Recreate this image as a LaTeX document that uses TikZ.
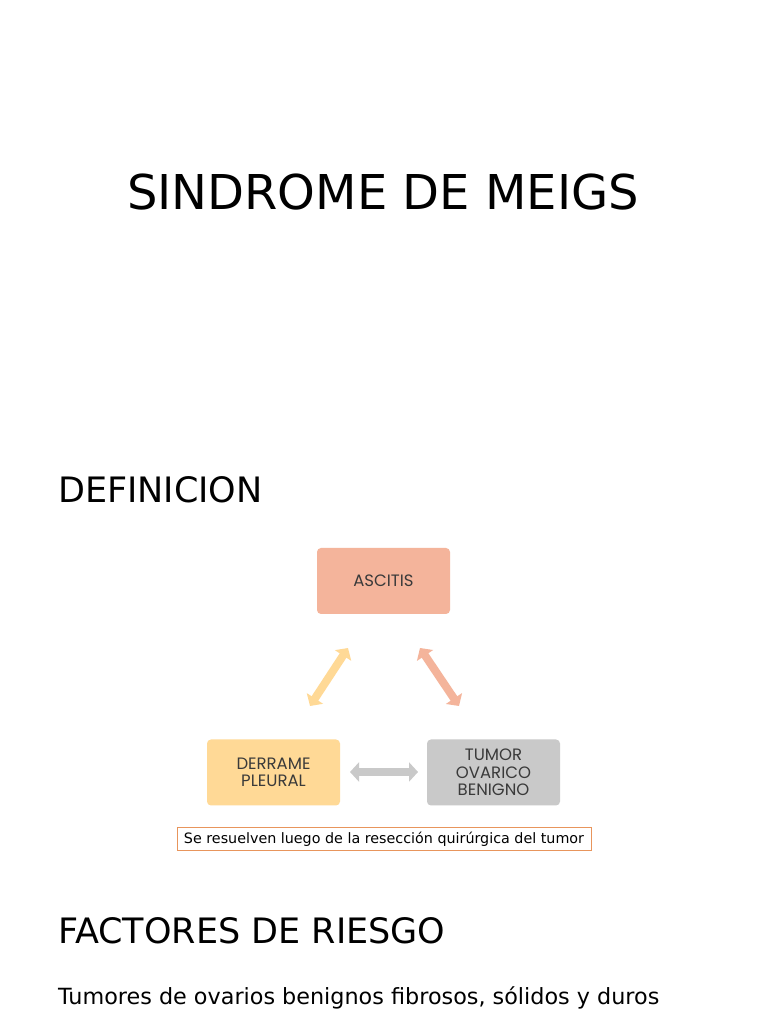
\documentclass[tikz,border=0pt]{standalone}
\usepackage{fontspec}
\setmainfont{DejaVu Sans}
\newfontfamily\boxfont{Poppins}
\usepackage{xcolor}
\definecolor{meigsSalmon}{HTML}{F4B49B}
\definecolor{meigsYellow}{HTML}{FFD996}
\definecolor{meigsGray}{HTML}{C9C9C9}
\definecolor{meigsLine}{HTML}{E8955C}
\definecolor{meigsText}{HTML}{3A3A3A}
\usetikzlibrary{arrows.meta,positioning}
\tikzset{
  heading/.style={anchor=west,inner sep=0pt,font=\fontsize{35}{42}\selectfont},
  conceptbox/.style={rectangle,rounded corners=4pt,minimum width=133pt,minimum height=66pt,
    inner sep=2pt,align=center,text=meigsText,font=\boxfont\fontsize{16.5}{17.5}\selectfont},
  notebox/.style={rectangle,draw=meigsLine,line width=1pt,minimum width=414pt,minimum height=23pt,
    inner sep=2pt,font=\fontsize{14.3}{16}\selectfont},
  linkarrow/.style={{Triangle[width=19pt,length=9pt]}-{Triangle[width=19pt,length=9pt]},line width=8pt},
}

\begin{document}
\begin{tikzpicture}[x=1pt,y=1pt]
  \fill[white] (0,0) rectangle (768,1024);
  \useasboundingbox (0,0) rectangle (768,1024);

  % title and headings
  \node[font=\fontsize{48}{56}\selectfont] (title) at (383,832) {SINDROME DE MEIGS};
  \node[heading] (defin) at (58,534) {DEFINICION};
  \node[heading] (factors) at (58,93) {FACTORES DE RIESGO};
  \node[anchor=west,inner sep=0pt,font=\fontsize{22.3}{26}\selectfont] (tumors) at (58,26)
    {Tumores de ovarios benignos fibrosos, sólidos y duros};

  % triad
  \node[conceptbox, fill=meigsSalmon] (ascitis) at (383.5,443) {ASCITIS};
  \node[conceptbox, fill=meigsYellow] (derrame) at (273.5,251.5) {DERRAME\\PLEURAL};
  \node[conceptbox, fill=meigsGray]   (tumor)   at (493.5,251.5) {TUMOR\\OVARICO\\BENIGNO};

  \coordinate (dTop) at (310,318);
  \coordinate (aLeft) at (348,376);
  \coordinate (aRight) at (420,376);
  \coordinate (tTop) at (459,318);
  \coordinate (dRight) at (350,252);
  \coordinate (tLeft) at (418,252);

  \draw[linkarrow, meigsYellow] (dTop) -- (aLeft);
  \draw[linkarrow, meigsSalmon] (aRight) -- (tTop);
  \draw[linkarrow, meigsGray]   (dRight) -- (tLeft);

  \node[notebox] (note) at (384,184.5) {Se resuelven luego de la resección quirúrgica del tumor};
\end{tikzpicture}
\end{document}
